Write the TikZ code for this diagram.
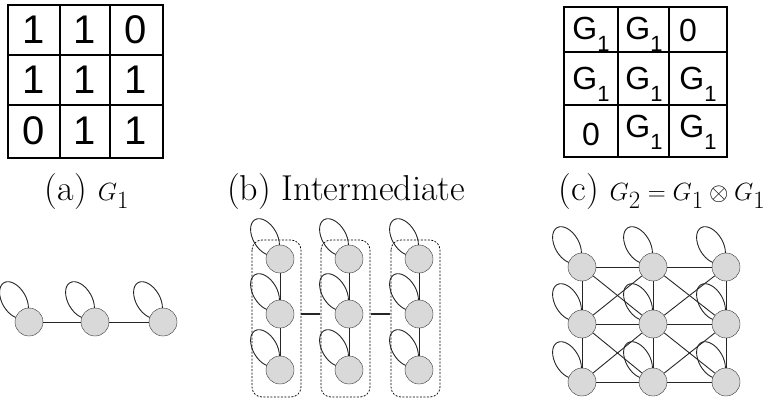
\documentclass[tikz,border=0pt]{standalone}
\usepackage{fontspec}
\newfontfamily\sansf{Liberation Sans}
\usetikzlibrary{positioning}
\tikzset{
  vert/.style={circle,draw=black!80,fill=black!15,minimum size=28pt,inner sep=0pt},
  edg/.style={draw=black!85,line width=0.9pt},
  cell/.style={font=\sansf\fontsize{40}{40}\selectfont},
  gcell/.style={font=\sansf\fontsize{32}{32}\selectfont},
  caption/.style={font=\fontsize{36}{40}\selectfont}
}
% loop drawn as a tilted ellipse at the upper left of a node
\newcommand{\selfloop}[1]{\draw[edg] ([shift={(-15pt,22pt)}]#1.center) ellipse[x radius=12pt,y radius=20pt,rotate=30];}
\begin{document}
\begin{tikzpicture}[x=1pt,y=-1pt]
\useasboundingbox (0,0) rectangle (782,401);
% (a) matrix
\draw[line width=1.2pt] (8,5) rectangle (163,158);
\draw[line width=1.2pt] (60,5) -- (60,158) (110,5) -- (110,158) (8,55) -- (163,55) (8,105) -- (163,105);
\foreach \r/\y in {1/30,2/80,3/131}
  \foreach \c/\x in {1/34,2/85,3/136} {
    \pgfmathsetmacro{\v}{int(\r==3 && \c==1 ? 0 : (\r==1 && \c==3 ? 0 : 1))}
    \node[cell] (a\r\c) at (\x,\y) {\v};
  }
% (c) matrix
\draw[line width=1.2pt] (564,7) rectangle (727,157);
\draw[line width=1.2pt] (618,7) -- (618,157) (669,7) -- (669,157) (564,52) -- (727,52) (564,105) -- (727,105);
\newcommand{\gone}{G\raisebox{-12pt}{\fontsize{22}{22}\selectfont 1}}
\node[gcell] (c11) at (591,34) {\gone};
\node[gcell] (c12) at (644,34) {\gone};
\node[gcell] (c13) at (688,30) {0};
\node[gcell] (c21) at (591,84) {\gone};
\node[gcell] (c22) at (644,84) {\gone};
\node[gcell] (c23) at (698,84) {\gone};
\node[gcell] (c31) at (591,134) {0};
\node[gcell] (c32) at (644,132) {\gone};
\node[gcell] (c33) at (698,132) {\gone};
% captions
\node[caption] (capa) at (87,192) {(a) $G_1$};
\node[caption] (capb) at (346,192) {(b) Intermediate};
\node[caption] (capc) at (662,192) {(c) $G_2 = G_1 \otimes G_1$};
% (a) graph
\foreach \i/\x in {1/29,2/95,3/163} {
  \coordinate (pc\i) at (\x,322);
  \selfloop{pc\i}
  \node[vert] (p\i) at (pc\i) {};
}
\draw[edg] (p1) -- (p2) -- (p3);
% (b) graph
\foreach \j/\x in {1/280,2/349,3/419} {
  \draw[dash pattern=on 2pt off 1.5pt,line width=0.7pt,rounded corners=10pt] (\x-28,240) rectangle (\x+21,397);
  \foreach \i/\y in {1/259,2/314,3/370} {
    \coordinate (bc\i\j) at (\x,\y);
    \selfloop{bc\i\j}
    \node[vert] (b\i\j) at (bc\i\j) {};
  }
  \draw[edg] (b1\j) -- (b2\j) -- (b3\j);
}
\draw[edg,line width=1.4pt] (301,314) -- (320,314) (371,314) -- (390,314);
% (c) graph
\foreach \i/\y in {1/267,2/324,3/382}
  \foreach \j/\x in {1/582,2/653,3/726} {
    \coordinate (gc\i\j) at (\x,\y);
    \selfloop{gc\i\j}
  }
\foreach \i in {1,2,3}
  \foreach \j in {1,2,3}
    \node[vert] (g\i\j) at (gc\i\j) {};
\foreach \i in {1,2,3} {
  \draw[edg] (g\i1) -- (g\i2) -- (g\i3);
  \draw[edg] (g1\i) -- (g2\i) -- (g3\i);
}
\foreach \a/\b in {11/22,22/33,12/23,21/32,13/22,22/31,12/21,23/32}
  \draw[edg] (g\a) -- (g\b);
\end{tikzpicture}
\end{document}
